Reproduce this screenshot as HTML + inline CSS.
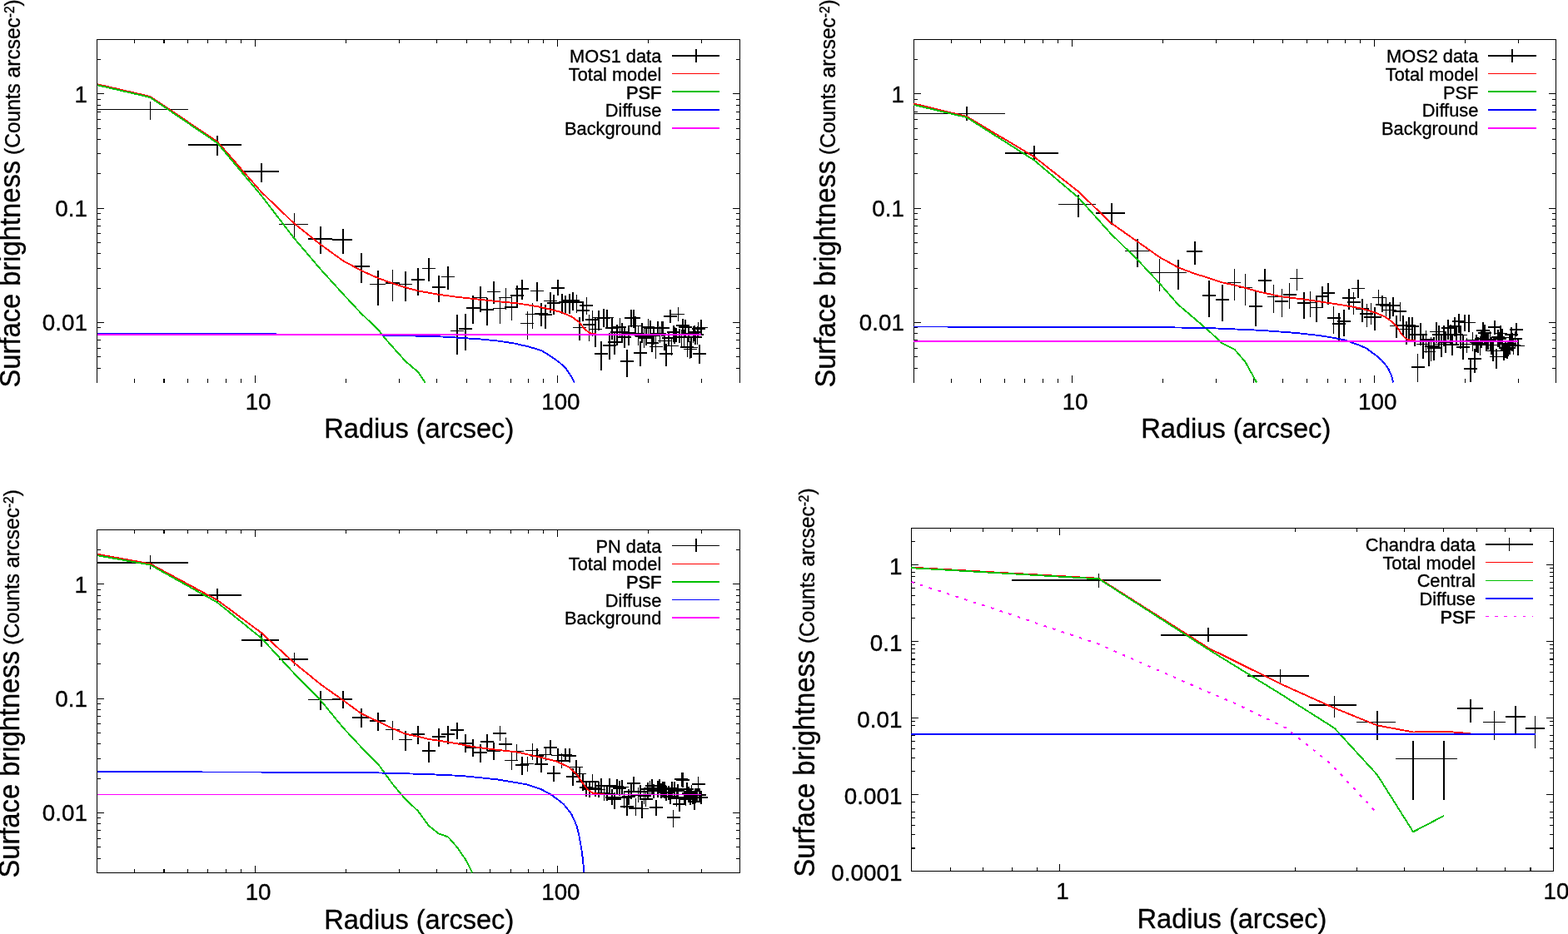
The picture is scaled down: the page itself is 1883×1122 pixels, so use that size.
<!DOCTYPE html>
<html lang="en">
<head>
<meta charset="utf-8">
<title>Surface brightness profiles</title>
<style>
html,body{margin:0;padding:0;background:#fff;}
body{width:1883px;height:1122px;overflow:hidden;}
svg{display:block;}
text{font-family:"Liberation Sans",sans-serif;fill:#000;stroke:#000;stroke-width:0.35px;}
</style>
</head>
<body>
<svg width="1883" height="1122" viewBox="0 0 1883 1122">
<rect width="1883" height="1122" fill="#fff"/>
<path d="M116.5 459.5V47.5H888.5V459.5M161.5 47.5v4.5M161.5 459.5v-4.5M225.5 47.5v4.5M225.5 459.5v-4.5M249.5 47.5v4.5M249.5 459.5v-4.5M271.5 47.5v4.5M271.5 459.5v-4.5M289.5 47.5v4.5M289.5 459.5v-4.5M306.5 47.5v8.5M306.5 459.5v-8.5M415.5 47.5v4.5M415.5 459.5v-4.5M479.5 47.5v4.5M479.5 459.5v-4.5M524.5 47.5v4.5M524.5 459.5v-4.5M560.5 47.5v4.5M560.5 459.5v-4.5M588.5 47.5v4.5M588.5 459.5v-4.5M613.5 47.5v4.5M613.5 459.5v-4.5M634.5 47.5v4.5M634.5 459.5v-4.5M652.5 47.5v4.5M652.5 459.5v-4.5M669.5 47.5v8.5M669.5 459.5v-8.5M778.5 47.5v4.5M778.5 459.5v-4.5M842.5 47.5v4.5M842.5 459.5v-4.5M116.5 442.5h4.5M888.5 442.5h-4.5M116.5 428.5h4.5M888.5 428.5h-4.5M116.5 418.5h4.5M888.5 418.5h-4.5M116.5 408.5h4.5M888.5 408.5h-4.5M116.5 400.5h4.5M888.5 400.5h-4.5M116.5 393.5h4.5M888.5 393.5h-4.5M116.5 387.5h8.5M888.5 387.5h-8.5M116.5 346.5h4.5M888.5 346.5h-4.5M116.5 322.5h4.5M888.5 322.5h-4.5M116.5 304.5h4.5M888.5 304.5h-4.5M116.5 291.5h4.5M888.5 291.5h-4.5M116.5 280.5h4.5M888.5 280.5h-4.5M116.5 271.5h4.5M888.5 271.5h-4.5M116.5 263.5h4.5M888.5 263.5h-4.5M116.5 256.5h4.5M888.5 256.5h-4.5M116.5 250.5h8.5M888.5 250.5h-8.5M116.5 208.5h4.5M888.5 208.5h-4.5M116.5 184.5h4.5M888.5 184.5h-4.5M116.5 167.5h4.5M888.5 167.5h-4.5M116.5 154.5h4.5M888.5 154.5h-4.5M116.5 143.5h4.5M888.5 143.5h-4.5M116.5 134.5h4.5M888.5 134.5h-4.5M116.5 126.5h4.5M888.5 126.5h-4.5M116.5 119.5h4.5M888.5 119.5h-4.5M116.5 112.5h8.5M888.5 112.5h-8.5M116.5 71.5h4.5M888.5 71.5h-4.5" fill="none" stroke="#000" stroke-width="1" shape-rendering="crispEdges"/>
<path d="M197 47.5v4.5M197 459.5v-4.5" fill="none" stroke="#000" stroke-width="2" shape-rendering="crispEdges"/>
<path d="M116 131.5H226M180.5 122V144M226 174H290M261 163V187M290 206H335M314 196V219M335 269.5H370M353.5 256V287M370 287H399M385 272V305M399 288H423M412 275V305M423 320H444M434 304V340M444 341.5H463M454 325V367M463 340H480M471.5 324V362M479 341.5H495M487 326V362M494 336H510M502 322V355M507 322.5H523M515 310V338M519 345H535M527 331V363M530 332.5H546M538 320V348M541 397.5H557M549 378V426M551 395H567M559 377V421M560 370H576M568 355V389M569 357.5H585M577 344V375M577 372H593M585 358V391M585 350.5H601M593 338V365M592 370.5H608M600.5 358V389M599 357.5H615M607.5 346V372M606 369H622M614.5 356V385M613 355H629M621 343V368M619 347H635M627 336V360M625 388.5H641M633.5 374V408M631 377.5H647M639.5 364V395M637 349.5H653M645 339V362M642 377H658M650 364V392M647 378H663M655 366V395M653 361.5H669M661 351V376M657 364H673M665 354V378M662 346H678M670 336V355M667 363.5H683M675 353V377M671 363H687M679 355V376M676 361H692M684 353V377M680 361H696M688 351V373M684 363H700M692.5 354V376M688 393.5H704M696 381V409M692 373H708M700 362V386M696 367H712M704.5 357V378M700 390H716M707.5 378V410M703 384H719M711.5 373V404M707 395.5H723M715 382V417M711 381.5H727M719 373V397M714 425H730M722 410V445M717 382H733M725 371V393M721 381.5H737M729 372V395M724 415H740M732 400V432M727 394H743M735 382V408M730 411H746M738 399V426M733 399H749M741 390V415M736 393H752M744.5 382V406M739 399H755M747 388V412M742 405H758M750 393V418M745 434H761M753 420V453M747 400H763M755 391V415M750 382H766M758 372V393M753 382H769M761 372V394M755 391.5H771M763 380V404M758 400.5H774M766.5 391V415M761 424H777M769 410V440M763 404H779M771 388V412M766 406H782M773.5 395V418M768 404H784M776 393V415M770 393H786M778.5 383V404M773 394H789M781 385V407M775 412H791M783 400V423M777 403H793M785 395V414M780 416.5H796M787.5 403V431M782 394H798M790 386V404M784 401H800M792.5 392V412M786 394H802M794.5 386V404M788 394H804M796 386V404M790 409.5H806M798 400V421M792 425H808M800 413V440M795 406H811M803 398V416M797 380H813M805 372V388M799 415.5H815M806.5 406V427M801 399H817M809 391V411M802 402H818M810 393V413M804 402H820M812 394V411M806 377.5H822M814.5 369V386M808 402.5H824M816 395V412M810 405H826M818.5 396V416M812 391H828M820 383V402M814 405H830M821.5 396V416M815 393H831M823 384V404M817 417H833M825.5 406V429M819 401.5H835M827 393V411M821 419.5H837M828.5 410V431M822 417.5H838M830 406V430M824 401H840M832.5 392V412M826 399H842M834 391V410M827 405H843M835 397V414M829 402H845M837.5 392V414M831 395H847M838.5 387V406M832 425H848M840 414V437M834 393.5H850M842 384V402" fill="none" stroke="#000" stroke-width="1.5" shape-rendering="crispEdges"/>
<path d="M116.8 101.2L180.5 116L261 170.2L313.9 230.7L353.3 268.5L385 293.7L412 313.3L433.8 325L454 334.1L471.6 340.5L486.9 345.3L501.8 349.4L515 351.7L527 353.8L548.8 356.8L568 358.9L593 361.7L621.2 364.3L644.8 368.1L660 371.4L673.9 375.1L686.7 380.5L695.3 386.9L701.7 394.9L707.1 399.4L711.3 400.8L716 401.5L725 402" fill="none" stroke="#ff0000" stroke-width="1.9" stroke-linejoin="round" shape-rendering="crispEdges"/>
<path d="M116.8 102.2L180.5 117L261 171.8L313.9 235L353.3 286.3L385 323.5L412 353.2L433.8 376.6L454 395.7L461.4 405.3L471.6 416.9L486.9 433.9L501.8 446.7L510.6 459.5" fill="none" stroke="#00c000" stroke-width="1.9" stroke-linejoin="round" shape-rendering="crispEdges"/>
<path d="M116.8 401L331 401L332 401.6L400 401.8L470 402.7L533.7 404.6L576.2 407.4L600 409.8L618.6 412.7L635 416.5L650.5 421.2L660 427L670.7 434.5L679.3 442L685.7 451.6L689.7 459.5" fill="none" stroke="#0000ff" stroke-width="1.9" stroke-linejoin="round" shape-rendering="crispEdges"/>
<path d="M116.8 402L842 402" fill="none" stroke="#ff00ff" stroke-width="1.9" stroke-linejoin="round" shape-rendering="crispEdges"/>
<text x="794.3" y="75.1" font-size="21.8" text-anchor="end">MOS1 data</text>
<path d="M807 67H864M836 59V75" fill="none" stroke="#000" stroke-width="1.5" shape-rendering="crispEdges"/>
<text x="794.3" y="96.8" font-size="21.8" text-anchor="end">Total model</text>
<path d="M807 88.5H864" fill="none" stroke="#ff0000" stroke-width="1.9" shape-rendering="crispEdges"/>
<text x="794.3" y="118.6" font-size="21.8" text-anchor="end" style="stroke-width:0.7px">PSF</text>
<path d="M807 110H864" fill="none" stroke="#00c000" stroke-width="1.9" shape-rendering="crispEdges"/>
<text x="794.3" y="140.3" font-size="21.8" text-anchor="end">Diffuse</text>
<path d="M807 132H864" fill="none" stroke="#0000ff" stroke-width="1.9" shape-rendering="crispEdges"/>
<text x="794.3" y="162.1" font-size="21.8" text-anchor="end">Background</text>
<path d="M807 154H864" fill="none" stroke="#ff00ff" stroke-width="1.9" shape-rendering="crispEdges"/>
<text x="104.9" y="122.7" font-size="27.8" text-anchor="end">1</text>
<text x="104.9" y="260" font-size="27.8" text-anchor="end">0.1</text>
<text x="104.9" y="397.4" font-size="27.8" text-anchor="end">0.01</text>
<text x="310.1" y="491.6" font-size="27.8" text-anchor="middle">10</text>
<text x="673.4" y="491.6" font-size="27.8" text-anchor="middle">100</text>
<text x="503.3" y="526" font-size="32.55" text-anchor="middle">Radius (arcsec)</text>
<text transform="translate(24 465.5) rotate(-90) scale(1 1.06)" font-size="32.7">Surface brightness <tspan font-size="24.5" dx="-2.1">(Counts arcsec</tspan><tspan font-size="15.5" dy="-6.5">-2</tspan><tspan font-size="24.5" dy="6.5">)</tspan></text>
<path d="M1097.5 459.5V47.5H1868.5V459.5M1142.5 47.5v4.5M1142.5 459.5v-4.5M1177.5 47.5v4.5M1177.5 459.5v-4.5M1206.5 47.5v4.5M1206.5 459.5v-4.5M1230.5 47.5v4.5M1230.5 459.5v-4.5M1252.5 47.5v4.5M1252.5 459.5v-4.5M1270.5 47.5v4.5M1270.5 459.5v-4.5M1287.5 47.5v8.5M1287.5 459.5v-8.5M1396.5 47.5v4.5M1396.5 459.5v-4.5M1460.5 47.5v4.5M1460.5 459.5v-4.5M1505.5 47.5v4.5M1505.5 459.5v-4.5M1540.5 47.5v4.5M1540.5 459.5v-4.5M1569.5 47.5v4.5M1569.5 459.5v-4.5M1594.5 47.5v4.5M1594.5 459.5v-4.5M1615.5 47.5v4.5M1615.5 459.5v-4.5M1633.5 47.5v4.5M1633.5 459.5v-4.5M1650.5 47.5v8.5M1650.5 459.5v-8.5M1759.5 47.5v4.5M1759.5 459.5v-4.5M1823.5 47.5v4.5M1823.5 459.5v-4.5M1097.5 442.5h4.5M1868.5 442.5h-4.5M1097.5 428.5h4.5M1868.5 428.5h-4.5M1097.5 418.5h4.5M1868.5 418.5h-4.5M1097.5 408.5h4.5M1868.5 408.5h-4.5M1097.5 400.5h4.5M1868.5 400.5h-4.5M1097.5 393.5h4.5M1868.5 393.5h-4.5M1097.5 387.5h8.5M1868.5 387.5h-8.5M1097.5 346.5h4.5M1868.5 346.5h-4.5M1097.5 322.5h4.5M1868.5 322.5h-4.5M1097.5 304.5h4.5M1868.5 304.5h-4.5M1097.5 291.5h4.5M1868.5 291.5h-4.5M1097.5 280.5h4.5M1868.5 280.5h-4.5M1097.5 271.5h4.5M1868.5 271.5h-4.5M1097.5 263.5h4.5M1868.5 263.5h-4.5M1097.5 256.5h4.5M1868.5 256.5h-4.5M1097.5 250.5h8.5M1868.5 250.5h-8.5M1097.5 208.5h4.5M1868.5 208.5h-4.5M1097.5 184.5h4.5M1868.5 184.5h-4.5M1097.5 167.5h4.5M1868.5 167.5h-4.5M1097.5 154.5h4.5M1868.5 154.5h-4.5M1097.5 143.5h4.5M1868.5 143.5h-4.5M1097.5 134.5h4.5M1868.5 134.5h-4.5M1097.5 126.5h4.5M1868.5 126.5h-4.5M1097.5 119.5h4.5M1868.5 119.5h-4.5M1097.5 112.5h8.5M1868.5 112.5h-8.5M1097.5 71.5h4.5M1868.5 71.5h-4.5" fill="none" stroke="#000" stroke-width="1" shape-rendering="crispEdges"/>
<path d="M1097 136.5H1207M1161 128V145M1207 184H1271M1242 175V192M1271 245.5H1316M1295 234V261M1316 256H1351M1335 244V270M1351 301.5H1380M1366 287V321M1380 327.5H1404M1392.5 311V350M1404 327.5H1425M1415 312V348M1425 302H1444M1435 290V318M1444 355H1460M1452 337V381M1460 360H1476M1468 342V386M1474 339.5H1490M1482.5 323V361M1488 345.5H1504M1495.5 329V367M1500 368H1516M1508 350V392M1511 337H1527M1519 323V353M1522 356.5H1538M1529.5 342V376M1531 362H1547M1539.5 347V381M1541 354H1557M1548.5 340V371M1549 334.5H1565M1557.5 323V349M1558 364H1574M1566 351V383M1566 363.5H1582M1573.5 350V381M1573 369.5H1589M1581 355V387M1580 356H1596M1588 344V370M1587 352H1603M1595 340V366M1594 382H1610M1601.5 368V401M1600 389H1616M1608 376V410M1606 386H1622M1614 372V404M1612 358H1628M1620 347V372M1618 363H1634M1625.5 351V378M1623 346.5H1639M1631 336V358M1628 371H1644M1636 359V387M1633 377H1649M1641.5 365V393M1638 381H1654M1646.5 364V390M1643 381H1659M1651 369V397M1648 357.5H1664M1655.5 348V367M1652 366H1668M1660 355V375M1657 367H1673M1664.5 357V381M1661 372.5H1677M1669 363V383M1665 367H1681M1673 357V380M1669 391.5H1685M1677 379V406M1673 374H1689M1681.5 363V386M1677 391H1693M1685 379V404M1681 395.5H1697M1689 386V414M1684 391H1700M1692 381V408M1688 392H1704M1696 381V408M1691 402H1707M1699 390V416M1695 441H1711M1702.5 425V459M1698 402H1714M1706 388V415M1701 413.5H1717M1709 403V431M1705 408H1721M1712.5 397V424M1708 422.5H1724M1716 411V440M1711 416H1727M1718.5 405V434M1714 418H1730M1722 405V433M1717 398.5H1733M1725 387V412M1720 402H1736M1728 391V417M1723 413.5H1739M1731 401V429M1726 402H1742M1734 391V416M1728 411H1744M1736 398V424M1731 394H1747M1739 384V408M1734 402H1750M1742 390V415M1736 414H1752M1744 401V427M1739 392H1755M1747 381V404M1741 402H1757M1749 391V413M1744 386H1760M1752 377V400M1746 402.5H1762M1754 391V419M1749 417H1765M1757 403V432M1751 387.5H1767M1759 378V398M1754 413.5H1770M1761.5 406V424M1756 387.5H1772M1764 378V399M1758 443H1774M1766 431V459M1760 409H1776M1768.5 399V422M1763 431H1779M1771 419V448M1765 411H1781M1773 402V423M1767 413H1783M1775 405V424M1769 414H1785M1777.5 404V427M1771 407H1787M1779 398V418M1773 397H1789M1781 387V409M1775 400H1791M1783 390V413M1777 409H1793M1785 399V422M1779 408H1795M1787 399V420M1781 408H1797M1789.5 398V421M1783 414.5H1799M1791 405V426M1785 421.5H1801M1793 411V434M1787 393H1803M1795 385V402M1789 428.5H1805M1797 419V443M1791 405H1807M1799 396V417M1793 407H1809M1801 399V418M1794 400.5H1810M1802 391V414M1796 405.5H1812M1804 395V418M1798 421.5H1814M1806 412V433M1800 418H1816M1808 409V430M1802 420H1818M1810 412V431M1803 418H1819M1811 410V428M1805 413H1821M1813 402V426M1807 402H1823M1815 393V413M1808 410H1824M1816 400V422M1810 415H1826M1817.5 407V426M1812 407H1828M1819.5 398V419M1813 396H1829M1821 388V404M1815 415.5H1831M1823 406V427" fill="none" stroke="#000" stroke-width="1.5" shape-rendering="crispEdges"/>
<path d="M1097.4 124.5L1160.9 140L1241.9 188.3L1295 230.1L1334.2 267.9L1365.8 290.1L1392.6 309L1414.9 321.3L1434.9 328.8L1452 334.1L1468 339.4L1482.4 342.5L1495.6 345.8L1507.9 349.5L1519 352.1L1539.6 356.4L1565.9 359.6L1594.8 363.8L1614.9 366.9L1635.7 370.7L1650 375L1662.8 380.3L1672.4 387L1678.7 394.1L1683.5 402.1L1688.3 406.9L1694.7 409L1701 409.5L1710 409.9" fill="none" stroke="#ff0000" stroke-width="1.9" stroke-linejoin="round" shape-rendering="crispEdges"/>
<path d="M1097.4 126L1160.9 141L1241.9 192.5L1295 237.3L1334.2 281L1365.8 311.8L1392.6 340.5L1414.9 366L1434.9 383L1452 397.8L1468 412.7L1482.4 419.5L1495.6 435L1507.9 457.3L1509 459.5" fill="none" stroke="#00c000" stroke-width="1.9" stroke-linejoin="round" shape-rendering="crispEdges"/>
<path d="M1097.4 392.5L1300 392.8L1400 393.3L1450 394L1513.7 396.8L1556.2 399.9L1583 402.9L1598.6 405.3L1614.9 408.5L1630.9 414.1L1641.1 418.5L1646.8 422.9L1653.9 428L1659.6 433.2L1664 438.5L1667.6 443.6L1670.5 450L1673.4 459.5" fill="none" stroke="#0000ff" stroke-width="1.9" stroke-linejoin="round" shape-rendering="crispEdges"/>
<path d="M1097.4 410L1823.1 410" fill="none" stroke="#ff00ff" stroke-width="1.9" stroke-linejoin="round" shape-rendering="crispEdges"/>
<text x="1775.3" y="75.1" font-size="21.8" text-anchor="end">MOS2 data</text>
<path d="M1787 67H1845M1816 59V75" fill="none" stroke="#000" stroke-width="1.5" shape-rendering="crispEdges"/>
<text x="1775.3" y="96.8" font-size="21.8" text-anchor="end">Total model</text>
<path d="M1787 88.5H1845" fill="none" stroke="#ff0000" stroke-width="1.9" shape-rendering="crispEdges"/>
<text x="1775.3" y="118.6" font-size="21.8" text-anchor="end">PSF</text>
<path d="M1787 110H1845" fill="none" stroke="#00c000" stroke-width="1.9" shape-rendering="crispEdges"/>
<text x="1775.3" y="140.3" font-size="21.8" text-anchor="end">Diffuse</text>
<path d="M1787 132H1845" fill="none" stroke="#0000ff" stroke-width="1.9" shape-rendering="crispEdges"/>
<text x="1775.3" y="162.1" font-size="21.8" text-anchor="end">Background</text>
<path d="M1787 154H1845" fill="none" stroke="#ff00ff" stroke-width="1.9" shape-rendering="crispEdges"/>
<text x="1085.9" y="122.7" font-size="27.8" text-anchor="end">1</text>
<text x="1085.9" y="260" font-size="27.8" text-anchor="end">0.1</text>
<text x="1085.9" y="397.4" font-size="27.8" text-anchor="end">0.01</text>
<text x="1291.1" y="491.6" font-size="27.8" text-anchor="middle">10</text>
<text x="1654.2" y="491.6" font-size="27.8" text-anchor="middle">100</text>
<text x="1484.3" y="526" font-size="32.55" text-anchor="middle">Radius (arcsec)</text>
<text transform="translate(1002.7 465.5) rotate(-90) scale(1 1.06)" font-size="32.7">Surface brightness <tspan font-size="24.5" dx="-2.1">(Counts arcsec</tspan><tspan font-size="15.5" dy="-6.5">-2</tspan><tspan font-size="24.5" dy="6.5">)</tspan></text>
<path d="M116.5 636.5H888.5V1048.5H116.5ZM161.5 636.5v4.5M161.5 1048.5v-4.5M225.5 636.5v4.5M225.5 1048.5v-4.5M249.5 636.5v4.5M249.5 1048.5v-4.5M271.5 636.5v4.5M271.5 1048.5v-4.5M289.5 636.5v4.5M289.5 1048.5v-4.5M306.5 636.5v8.5M306.5 1048.5v-8.5M415.5 636.5v4.5M415.5 1048.5v-4.5M479.5 636.5v4.5M479.5 1048.5v-4.5M524.5 636.5v4.5M524.5 1048.5v-4.5M560.5 636.5v4.5M560.5 1048.5v-4.5M588.5 636.5v4.5M588.5 1048.5v-4.5M613.5 636.5v4.5M613.5 1048.5v-4.5M634.5 636.5v4.5M634.5 1048.5v-4.5M652.5 636.5v4.5M652.5 1048.5v-4.5M669.5 636.5v8.5M669.5 1048.5v-8.5M778.5 636.5v4.5M778.5 1048.5v-4.5M842.5 636.5v4.5M842.5 1048.5v-4.5M116.5 1031.5h4.5M888.5 1031.5h-4.5M116.5 1017.5h4.5M888.5 1017.5h-4.5M116.5 1007.5h4.5M888.5 1007.5h-4.5M116.5 997.5h4.5M888.5 997.5h-4.5M116.5 989.5h4.5M888.5 989.5h-4.5M116.5 982.5h4.5M888.5 982.5h-4.5M116.5 976.5h8.5M888.5 976.5h-8.5M116.5 935.5h4.5M888.5 935.5h-4.5M116.5 911.5h4.5M888.5 911.5h-4.5M116.5 893.5h4.5M888.5 893.5h-4.5M116.5 880.5h4.5M888.5 880.5h-4.5M116.5 869.5h4.5M888.5 869.5h-4.5M116.5 860.5h4.5M888.5 860.5h-4.5M116.5 852.5h4.5M888.5 852.5h-4.5M116.5 845.5h4.5M888.5 845.5h-4.5M116.5 839.5h8.5M888.5 839.5h-8.5M116.5 797.5h4.5M888.5 797.5h-4.5M116.5 773.5h4.5M888.5 773.5h-4.5M116.5 756.5h4.5M888.5 756.5h-4.5M116.5 743.5h4.5M888.5 743.5h-4.5M116.5 732.5h4.5M888.5 732.5h-4.5M116.5 723.5h4.5M888.5 723.5h-4.5M116.5 715.5h4.5M888.5 715.5h-4.5M116.5 708.5h4.5M888.5 708.5h-4.5M116.5 701.5h8.5M888.5 701.5h-8.5M116.5 660.5h4.5M888.5 660.5h-4.5" fill="none" stroke="#000" stroke-width="1" shape-rendering="crispEdges"/>
<path d="M197 636.5v4.5M197 1048.5v-4.5" fill="none" stroke="#000" stroke-width="2" shape-rendering="crispEdges"/>
<path d="M116 676H226M180.5 667V684M226 715H290M261 707V723M290 769H335M314 761V777M335 792H370M353.5 784V800M370 840.5H399M385 830V853M399 840H423M412 830V851M423 862H444M434 851V874M444 866H463M454 856V878M463 876.5H480M471.5 866V889M479 888.5H495M487 878V902M494 882H510M502 872V894M507 902H523M515 891V916M519 885H535M527 875V897M530 882H546M538 872V894M541 877H557M549 868V888M551 893H567M559 882V904M560 898H576M568 888V909M569 904H585M577 894V916M577 891H593M585 882V902M585 902H601M593 892V913M592 881H608M600.5 872V890M599 894H615M607.5 886V902M606 913.5H622M614.5 902V925M613 902.5H629M620.5 894V914M619 919H635M627 909V931M625 917.5H641M633.5 909V927M631 901.5H647M639.5 893V913M637 908H653M645 899V917M642 918H658M650 906V928M647 906.5H663M655.5 898V914M653 898H669M661 889V907M657 929H673M665 920V939M662 907.5H678M670 899V916M667 914H683M674.5 905V923M671 907H687M679 899V915M676 908H692M684 899V916M680 933H696M688 923V944M684 921.5H700M692 913V931M688 929.5H704M696 921V940M692 939H708M700 929V950M696 946H712M704 938V957M700 948H716M708 939V958M703 939H719M711.5 930V948M707 947H723M715 938V957M711 948.5H727M719 939V958M714 944H730M722 935V954M717 953H733M725.5 943V962M721 954H737M729 944V962M724 944H740M732 935V954M727 958H743M735 948V967M730 960H746M738 952V972M733 945H749M741 936V955M736 947H752M744 938V956M739 945.5H755M747 937V955M742 958H758M749.5 950V971M745 969H761M753 958V980M747 957H763M755 948V967M750 951H766M758 942V960M753 941H769M761 933V951M755 971H771M763.5 959V980M758 955H774M766.5 946V964M761 951H777M769 943V961M763 971.5H779M771 962V983M766 956H782M773.5 947V966M768 960H784M775.5 951V969M770 948H786M778 940V959M773 947H789M780.5 938V957M775 944H791M783 936V954M777 950H793M785 942V959M780 970H796M788 961V980M782 947H798M790 938V958M784 944H800M792 936V953M786 948.5H802M794 941V959M788 947H804M796 939V958M790 948H806M798 939V959M792 952H808M800 944V962M795 952H811M803 944V961M797 957H813M805 949V966M799 946.5H815M807 939V956M801 982H817M808.5 973V994M802 948H818M810 939V959M804 959H820M812.5 951V969M806 950H822M814 942V959M808 966H824M816 958V975M810 936H826M818.5 928V945M812 937H828M820 928V946M814 958H830M822 950V967M815 960H831M823.5 952V968M817 948H833M825 940V957M819 953H835M827 945V962M821 957H837M829 949V967M822 951H838M830.5 943V960M824 957.5H840M832 950V966M826 963H842M834 955V973M827 955.5H843M835 947V965M829 955H845M837 947V964M831 942H847M838.5 933V951M832 955H848M840 947V964M834 958H850M842 950V966" fill="none" stroke="#000" stroke-width="1.5" shape-rendering="crispEdges"/>
<path d="M116.8 665.7L180.5 677.4L261 720.9L313.9 760.2L353.4 796.3L385 822.1L412 841.2L433.8 857.2L454 866.7L471.6 875.2L486.9 881.6L501.8 884.8L515 888L527.1 889.7L548.8 893.3L568.1 897.1L592.9 900.3L621.2 903.5L644.8 908.8L668.6 914.7L683 921.6L692.5 929.9L698.9 939.5L705.3 948.2L711.7 952.6L719.7 953.8L726 954.1" fill="none" stroke="#ff0000" stroke-width="1.9" stroke-linejoin="round" shape-rendering="crispEdges"/>
<path d="M116.8 667.2L180.5 678.6L261 723.7L313.9 766.6L353.4 809.1L385 841.2L412 874.2L433.8 897.5L454 917.7L471.6 942.1L486.9 960.2L501.8 974L515 992.1L527.1 1001.6L538.1 1005.4L548.8 1017.6L559 1032.4L567.2 1048.4" fill="none" stroke="#00c000" stroke-width="1.9" stroke-linejoin="round" shape-rendering="crispEdges"/>
<path d="M116.8 927.3L350 927.6L448.7 928.3L512.4 930L554.9 932L597.4 936.4L615 939.3L631.9 942.3L650.5 948.5L660.6 953.8L671.7 961.9L676.6 965.8L682.4 973L686.2 977.8L689.5 985L692.5 992.1L694.6 1000L696.5 1009.7L698.3 1019.7L699.7 1030.4L701.5 1048.3" fill="none" stroke="#0000ff" stroke-width="1.9" stroke-linejoin="round" shape-rendering="crispEdges"/>
<path d="M116.8 954.5L841.7 954.5" fill="none" stroke="#ff00ff" stroke-width="1.9" stroke-linejoin="round" shape-rendering="crispEdges"/>
<text x="794.3" y="663.6" font-size="21.8" text-anchor="end">PN data</text>
<path d="M807 655.5H864M836 647V663" fill="none" stroke="#000" stroke-width="1.5" shape-rendering="crispEdges"/>
<text x="794.3" y="685.2" font-size="21.8" text-anchor="end">Total model</text>
<path d="M807 677.5H864" fill="none" stroke="#ff0000" stroke-width="1.9" shape-rendering="crispEdges"/>
<text x="794.3" y="706.9" font-size="21.8" text-anchor="end" style="stroke-width:0.7px">PSF</text>
<path d="M807 699H864" fill="none" stroke="#00c000" stroke-width="1.9" shape-rendering="crispEdges"/>
<text x="794.3" y="728.5" font-size="21.8" text-anchor="end">Diffuse</text>
<path d="M807 720.5H864" fill="none" stroke="#0000ff" stroke-width="1.9" shape-rendering="crispEdges"/>
<text x="794.3" y="750.1" font-size="21.8" text-anchor="end">Background</text>
<path d="M807 742H864" fill="none" stroke="#ff00ff" stroke-width="1.9" shape-rendering="crispEdges"/>
<text x="104.9" y="711.7" font-size="27.8" text-anchor="end">1</text>
<text x="104.9" y="849" font-size="27.8" text-anchor="end">0.1</text>
<text x="104.9" y="986.4" font-size="27.8" text-anchor="end">0.01</text>
<text x="310.1" y="1080.7" font-size="27.8" text-anchor="middle">10</text>
<text x="673.4" y="1080.7" font-size="27.8" text-anchor="middle">100</text>
<text x="503.3" y="1116.1" font-size="32.55" text-anchor="middle">Radius (arcsec)</text>
<text transform="translate(23.1 1054.6) rotate(-90) scale(1 1.06)" font-size="32.7">Surface brightness <tspan font-size="24.5" dx="-1.8">(Counts arcsec</tspan><tspan font-size="15.5" dy="-6.5">-2</tspan><tspan font-size="24.5" dy="6.5">)</tspan></text>
<path d="M1094.5 634.5H1865.5V1046.5H1094.5ZM1141.5 634.5v4.5M1141.5 1046.5v-4.5M1180.5 634.5v4.5M1180.5 1046.5v-4.5M1215.5 634.5v4.5M1215.5 1046.5v-4.5M1245.5 634.5v4.5M1245.5 1046.5v-4.5M1272.5 634.5v8.5M1272.5 1046.5v-8.5M1555.5 634.5v4.5M1555.5 1046.5v-4.5M1629.5 634.5v4.5M1629.5 1046.5v-4.5M1686.5 634.5v4.5M1686.5 1046.5v-4.5M1733.5 634.5v4.5M1733.5 1046.5v-4.5M1773.5 634.5v4.5M1773.5 1046.5v-4.5M1807.5 634.5v4.5M1807.5 1046.5v-4.5M1094.5 1002.5h4.5M1865.5 1002.5h-4.5M1094.5 991.5h4.5M1865.5 991.5h-4.5M1094.5 982.5h4.5M1865.5 982.5h-4.5M1094.5 975.5h4.5M1865.5 975.5h-4.5M1094.5 963.5h4.5M1865.5 963.5h-4.5M1094.5 954.5h8.5M1865.5 954.5h-8.5M1094.5 926.5h4.5M1865.5 926.5h-4.5M1094.5 910.5h4.5M1865.5 910.5h-4.5M1094.5 899.5h4.5M1865.5 899.5h-4.5M1094.5 890.5h4.5M1865.5 890.5h-4.5M1094.5 883.5h4.5M1865.5 883.5h-4.5M1094.5 871.5h4.5M1865.5 871.5h-4.5M1094.5 866.5h4.5M1865.5 866.5h-4.5M1094.5 862.5h8.5M1865.5 862.5h-8.5M1094.5 834.5h4.5M1865.5 834.5h-4.5M1094.5 818.5h4.5M1865.5 818.5h-4.5M1094.5 807.5h4.5M1865.5 807.5h-4.5M1094.5 798.5h4.5M1865.5 798.5h-4.5M1094.5 784.5h4.5M1865.5 784.5h-4.5M1094.5 779.5h4.5M1865.5 779.5h-4.5M1094.5 774.5h4.5M1865.5 774.5h-4.5M1094.5 770.5h8.5M1865.5 770.5h-8.5M1094.5 742.5h4.5M1865.5 742.5h-4.5M1094.5 726.5h4.5M1865.5 726.5h-4.5M1094.5 715.5h4.5M1865.5 715.5h-4.5M1094.5 706.5h4.5M1865.5 706.5h-4.5M1094.5 699.5h4.5M1865.5 699.5h-4.5M1094.5 692.5h4.5M1865.5 692.5h-4.5M1094.5 687.5h4.5M1865.5 687.5h-4.5M1094.5 682.5h4.5M1865.5 682.5h-4.5M1094.5 678.5h8.5M1865.5 678.5h-8.5M1094.5 650.5h4.5M1865.5 650.5h-4.5" fill="none" stroke="#000" stroke-width="1" shape-rendering="crispEdges"/>
<path d="M1838 634.5v4.5M1838 1046.5v-4.5M1094.5 1019h4.5M1865.5 1019h-4.5M1094.5 792h4.5M1865.5 792h-4.5" fill="none" stroke="#000" stroke-width="2" shape-rendering="crispEdges"/>
<path d="M1215 697H1394M1319.5 689V706M1394 763H1498M1451 754V771M1498 812H1572M1537.5 804V821M1572 847H1629M1602.5 836V862M1629 867.5H1676M1654 854V889M1676 911.5H1716M1697 890V961M1716 911.5H1750M1734 890V961M1750 851H1781M1766 840V868M1781 867.5H1808M1794.5 854V889M1808 861H1832M1820 848V882M1832 875H1855M1843.5 860V899" fill="none" stroke="#000" stroke-width="1.5" shape-rendering="crispEdges"/>
<path d="M1094.4 681.6L1319.6 694.8L1450.9 778.3L1537.6 821.4L1602.4 850.6L1654 871.4L1697.1 879.5L1733.9 878.6L1766 881.2" fill="none" stroke="#ff0000" stroke-width="1.9" stroke-linejoin="round" shape-rendering="crispEdges"/>
<path d="M1094.4 682.2L1319.6 695.4L1450.9 780L1537.6 833.5L1602.4 874.6L1654 930.9L1697.1 999.3L1733.9 980" fill="none" stroke="#00c000" stroke-width="1.9" stroke-linejoin="round" shape-rendering="crispEdges"/>
<path d="M1094.4 882L1843.5 882" fill="none" stroke="#0000ff" stroke-width="1.9" stroke-linejoin="round" shape-rendering="crispEdges"/>
<path d="M1094.4 699L1171.3 724.1L1224.5 741.7L1277.6 759.8L1320 774L1381.6 801.2L1450 831L1483 844.9L1544.6 874.6L1597.7 917.1L1629.6 951.1L1651.9 974.9" fill="none" stroke="#ff00ff" stroke-width="1.9" stroke-linejoin="round" shape-rendering="crispEdges" stroke-dasharray="3.5 7.67"/>
<text x="1771.9" y="662.1" font-size="21.8" text-anchor="end">Chandra data</text>
<path d="M1784 654H1841M1812.5 646V662" fill="none" stroke="#000" stroke-width="1.5" shape-rendering="crispEdges"/>
<text x="1771.9" y="683.7" font-size="21.8" text-anchor="end">Total model</text>
<path d="M1784 675.5H1841" fill="none" stroke="#ff0000" stroke-width="1.9" shape-rendering="crispEdges"/>
<text x="1771.9" y="705.4" font-size="21.8" text-anchor="end">Central</text>
<path d="M1784 697.5H1841" fill="none" stroke="#00c000" stroke-width="1.9" shape-rendering="crispEdges"/>
<text x="1771.9" y="727" font-size="21.8" text-anchor="end">Diffuse</text>
<path d="M1784 719H1841" fill="none" stroke="#0000ff" stroke-width="1.9" shape-rendering="crispEdges"/>
<text x="1771.9" y="748.6" font-size="21.8" text-anchor="end" style="stroke-width:0.7px">PSF</text>
<path d="M1784 740.5H1841" fill="none" stroke="#ff00ff" stroke-width="1.9" shape-rendering="crispEdges" stroke-dasharray="3.5 7.67"/>
<text x="1083.4" y="689.5" font-size="27.8" text-anchor="end">1</text>
<text x="1083.4" y="781.5" font-size="27.8" text-anchor="end">0.1</text>
<text x="1083.4" y="873.5" font-size="27.8" text-anchor="end">0.01</text>
<text x="1083.4" y="965.5" font-size="27.8" text-anchor="end">0.001</text>
<text x="1083.4" y="1057.5" font-size="27.8" text-anchor="end">0.0001</text>
<text x="1276" y="1080" font-size="27.8" text-anchor="middle">1</text>
<text x="1869" y="1080" font-size="27.8" text-anchor="middle">10</text>
<text x="1479.5" y="1114.7" font-size="32.55" text-anchor="middle">Radius (arcsec)</text>
<text transform="translate(977.5 1053.5) rotate(-90) scale(1 1.06)" font-size="32.7">Surface brightness <tspan font-size="24.5" dx="-1.2">(Counts arcsec</tspan><tspan font-size="15.5" dy="-6.5">-2</tspan><tspan font-size="24.5" dy="6.5">)</tspan></text>
</svg>
</body>
</html>
